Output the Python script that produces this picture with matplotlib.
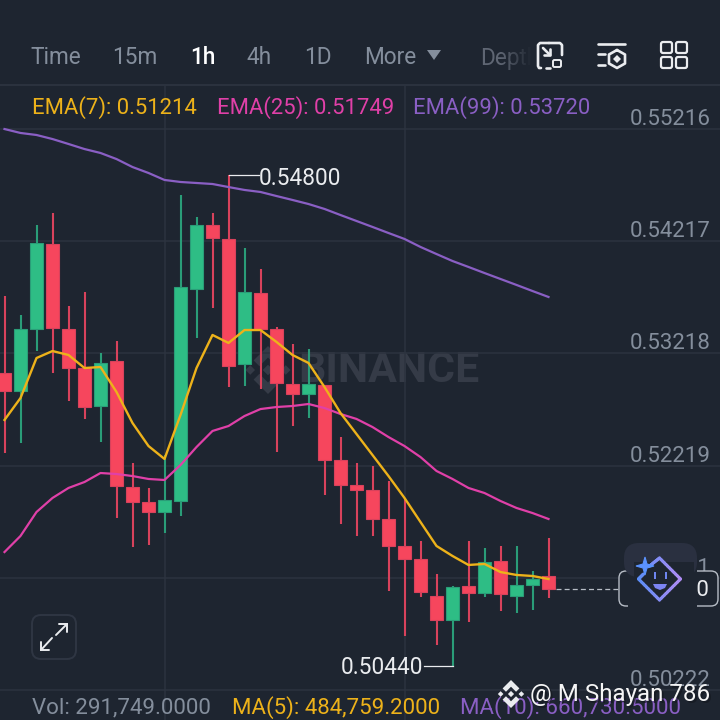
import numpy as np
from matplotlib import pyplot as plt
from matplotlib.colors import to_rgb
from matplotlib.patches import FancyBboxPatch, Polygon, Rectangle

# candle values
opens = [0.53043, 0.52883, 0.53434, 0.54190, 0.53434, 0.53087, 0.52749, 0.53149, 0.52029, 0.51895, 0.51806, 0.51904,
         0.53790, 0.54359, 0.54235, 0.53123, 0.53754, 0.53434, 0.52945, 0.52856, 0.52936, 0.52269, 0.52046, 0.52002,
         0.51744, 0.51504, 0.51388, 0.51059, 0.50845, 0.51148, 0.51086, 0.51370, 0.51059, 0.51157, 0.51237]
highs = [0.53728, 0.53559, 0.54359, 0.54466, 0.53639, 0.53763, 0.53221, 0.53327, 0.52242, 0.52020, 0.52313, 0.54626,
         0.54431, 0.54466, 0.54800, 0.54155, 0.53968, 0.53452, 0.53301, 0.53256, 0.52936, 0.52473, 0.52242, 0.52215,
         0.52082, 0.51931, 0.51548, 0.51255, 0.51148, 0.51548, 0.51486, 0.51504, 0.51504, 0.51281, 0.51575]
lows = [0.52331, 0.52420, 0.53238, 0.53043, 0.52794, 0.52634, 0.52429, 0.51753, 0.51495, 0.51513, 0.51619, 0.51771,
        0.53354, 0.53621, 0.52918, 0.52927, 0.52900, 0.52340, 0.52571, 0.52642, 0.51957, 0.51699, 0.51593, 0.51593,
        0.51103, 0.50703, 0.51050, 0.50623, 0.50440, 0.50828, 0.51050, 0.50925, 0.50908, 0.50934, 0.51041]
closes = [0.52883, 0.53434, 0.54199, 0.53443, 0.53087, 0.52740, 0.53132, 0.52037, 0.51895, 0.51806, 0.51913, 0.53808,
          0.54359, 0.54244, 0.53105, 0.53763, 0.53434, 0.52954, 0.52856, 0.52945, 0.52269, 0.52046, 0.52002, 0.51744,
          0.51504, 0.51388, 0.51095, 0.50845, 0.51139, 0.51086, 0.51361, 0.51077, 0.51157, 0.51210, 0.51121]

ema7 = [0.52625, 0.52820, 0.53176, 0.53238, 0.53203, 0.53087, 0.53096, 0.52874, 0.52598, 0.52393, 0.52278, 0.52669,
        0.53087, 0.53381, 0.53310, 0.53425, 0.53425, 0.53319, 0.53203, 0.53132, 0.52918, 0.52687, 0.52500, 0.52313,
        0.52126, 0.51931, 0.51717, 0.51504, 0.51415, 0.51335, 0.51344, 0.51272, 0.51246, 0.51237, 0.51210]
ema25 = [0.51450, 0.51593, 0.51806, 0.51931, 0.52020, 0.52073, 0.52153, 0.52144, 0.52126, 0.52100, 0.52091, 0.52224,
         0.52384, 0.52527, 0.52571, 0.52660, 0.52722, 0.52740, 0.52749, 0.52767, 0.52731, 0.52678, 0.52634, 0.52562,
         0.52473, 0.52393, 0.52295, 0.52171, 0.52100, 0.52020, 0.51975, 0.51904, 0.51842, 0.51797, 0.51744]
ema99 = [0.55213, 0.55178, 0.55160, 0.55124, 0.55080, 0.55035, 0.55000, 0.54946, 0.54875, 0.54822, 0.54760, 0.54742,
         0.54733, 0.54724, 0.54697, 0.54671, 0.54653, 0.54617, 0.54582, 0.54546, 0.54502, 0.54448, 0.54395, 0.54342,
         0.54288, 0.54235, 0.54164, 0.54101, 0.54039, 0.53986, 0.53932, 0.53879, 0.53826, 0.53772, 0.53719]

price_ticks = [0.55216, 0.54217, 0.53218, 0.52219, 0.51221, 0.50222]
tick_labels = ["0.55216", "0.54217", "0.53218", "0.52219", "0.51221", "0.50222"]
grid_candles = [10, 25]
high_label = "0.54800"
low_label = "0.50440"
last_label = "0.51120"

tabs = ["Time", "15m", "1h", "4h", "1D", "More"]
tab_x = [30, 112, 190, 246, 304, 364]

BG = "#1E2530"
GRID = "#2C333F"
GREEN = "#2EBD85"
RED = "#F6465D"
GREEN_DK = "#2A9D78"
RED_DK = "#D8425C"
YELLOW = "#EDB21A"
PINK = "#E040A8"
PURPLE = "#8A5FC4"
GRAY = "#848E9C"
LIGHT = "#EAECEF"
WMARK = "#353B47"
TEXT_PT = 15.8
VOL_PT = 16

plt.rcParams['font.family'] = ['Roboto', 'DejaVu Sans']

fig = plt.figure(figsize=(7.2, 7.2), dpi=100, facecolor=BG)

# back layer for the watermark, pixel coordinates
back = fig.add_axes([0, 0, 1, 1], zorder=0)
back.set_xlim(0, 720)
back.set_ylim(720, 0)
back.axis("off")

# chart layer: x in candles, y in price
ax = fig.add_axes([0, 0, 1, 1], zorder=1)
ax.patch.set_alpha(0)
ax.set_xlim(-4.5 / 16, (720 - 4.5) / 16)
ax.set_ylim(0.563609 - 720 * 0.00008896, 0.563609)
ax.axis("off")

# top layer for the app controls, pixel coordinates
ui = fig.add_axes([0, 0, 1, 1], zorder=2)
ui.patch.set_alpha(0)
ui.set_xlim(0, 720)
ui.set_ylim(720, 0)
ui.axis("off")


def binance_logo(target, cx, cy, r, color, zorder=1):
    top = [(0, 1), (.6, .4), (.36, .16), (0, .52), (-.36, .16), (-.6, .4)]
    shapes = [top, [(x, -y) for x, y in top]]
    for dx, hd in [(0, .22), (-.74, .2), (.74, .2)]:
        shapes.append([(dx, hd), (dx + hd, 0), (dx, -hd), (dx - hd, 0)])
    for s in shapes:
        target.add_patch(Polygon([(cx + x * r, cy - y * r) for x, y in s], closed=True,
                                 fc=color, ec="none", zorder=zorder))


binance_logo(back, 268, 370, 24, WMARK)
back.text(298, 370, "BINANCE", color=WMARK, fontsize=30.8, fontweight="bold", va="center", ha="left")

# grid
for p in price_ticks:
    ax.axhline(p, color=GRID, lw=1.1, zorder=1)
for c in grid_candles:
    ax.axvline(c, ymax=1 - 86 / 720, color=GRID, lw=1.1, zorder=1)
ui.plot([0, 720], [85, 85], color=GRID, lw=1.4, zorder=1)

# candles
idx = np.arange(len(opens))
opens_a, closes_a = np.array(opens), np.array(closes)
up = closes_a >= opens_a
ax.vlines(idx, lows, highs, colors=[GREEN_DK if u else RED_DK for u in up], lw=1.5, zorder=2)
ax.bar(idx, np.abs(closes_a - opens_a), bottom=np.minimum(opens_a, closes_a), width=0.85,
       color=[GREEN if u else RED for u in up], edgecolor=[GREEN_DK if u else RED_DK for u in up],
       linewidth=0.8, zorder=3)

ax.plot(idx, ema99, color=PURPLE, lw=1.6, zorder=4)
ax.plot(idx, ema25, color=PINK, lw=1.6, zorder=4)
ax.plot(idx, ema7, color=YELLOW, lw=1.7, zorder=4)

# high / low markers
hi = int(np.argmax(highs))
lo = int(np.argmin(lows))
ax.plot([hi, hi + 1.9], [highs[hi], highs[hi]], color=LIGHT, lw=0.9, zorder=6)
ax.plot([lo - 1.8, lo], [lows[lo], lows[lo]], color=LIGHT, lw=0.9, zorder=6)
ax.annotate(high_label, xy=(hi, highs[hi]), xytext=(259, 720 - 178.5), textcoords="figure pixels",
            color=LIGHT, fontsize=16.3, va="center", ha="left", zorder=6)
ax.annotate(low_label, xy=(lo, lows[lo]), xytext=(423, 720 - 667.5), textcoords="figure pixels",
            color=LIGHT, fontsize=16.3, va="center", ha="right", zorder=6)

# last price line
ax.hlines(closes[-1], len(closes) - 1 + 0.45, (619 - 4.5) / 16, color="#B7BDC6", lw=0.9,
          linestyles=(0, (4, 2.5)), zorder=2)

# price axis labels
for p, lab in zip(price_ticks, tick_labels):
    ax.annotate(lab, xy=(1, p), xycoords=("axes fraction", "data"), xytext=(-7, 6.8), textcoords="offset points",
                ha="right", va="center", color=GRAY, fontsize=16, zorder=5)

# header tabs
for name, x in zip(tabs, tab_x):
    active = name == "1h"
    ui.text(x, 58, name, color="white" if active else GRAY, fontsize=16.3, va="center", ha="left",
            fontweight="medium" if active else "normal")
ui.add_patch(Polygon([(427, 50), (441, 50), (434, 60)], closed=True, fc=GRAY, ec="none"))
ui.text(480, 58, "Depth", color="#5F6673", fontsize=16.3, va="center", ha="left", zorder=2)
fade = np.zeros((1, 32, 4))
fade[..., :3] = to_rgb(BG)
fade[..., 3] = np.linspace(0, 1, 32)
ui.imshow(fade, extent=(500, 532, 72, 40), aspect="auto", zorder=3)
ui.add_patch(Rectangle((532, 40), 32, 32, fc=BG, ec="none", zorder=3))
ui.set_xlim(0, 720)
ui.set_ylim(720, 0)

# header icons
ICON = dict(color="#EAECEF", lw=1.9, solid_capstyle="round", solid_joinstyle="round", zorder=5)
ui.plot([541, 539, 538, 538, 540, 549], [68, 68, 66, 45, 43, 43], **ICON)
ui.plot([549, 560, 562, 562], [43, 43, 45, 55], **ICON)
ui.plot([546, 550], [68, 68], **ICON)
ui.add_patch(FancyBboxPatch((553, 60), 8, 7, boxstyle="round,pad=0,rounding_size=1.5", fc="none", ec="#EAECEF",
                            lw=1.4, zorder=5))
ui.plot([543, 550], [48, 55], **ICON)
ui.plot([550, 550, 544], [49, 55, 55], **ICON)

ui.plot([598, 625], [44, 44], **ICON)
ui.plot([598, 605], [54, 54], **ICON)
ui.plot([598, 605], [65, 65], **ICON)
hex_x = [617, 625, 625, 617, 609, 609, 617]
hex_y = [50, 54.5, 63.5, 68, 63.5, 54.5, 50]
ui.plot(hex_x, hex_y, **ICON)
ui.add_patch(Polygon([(617, 55), (621, 59), (617, 63), (613, 59)], closed=True, fc="#EAECEF", ec="none", zorder=5))

for x in (661, 676):
    for y in (42, 57):
        ui.add_patch(FancyBboxPatch((x, y), 11, 11, boxstyle="round,pad=0,rounding_size=2", fc="none",
                                    ec="#EAECEF", lw=1.6, zorder=5))

# EMA legend
ui.text(32, 108, "EMA(7): 0.51214", color=YELLOW, fontsize=TEXT_PT, va="center", ha="left")
ui.text(217, 108, "EMA(25): 0.51749", color=PINK, fontsize=TEXT_PT, va="center", ha="left")
ui.text(413, 108, "EMA(99): 0.53720", color=PURPLE, fontsize=TEXT_PT, va="center", ha="left")

# volume legend
ui.text(32, 708, "Vol: 291,749.0000", color=GRAY, fontsize=VOL_PT, va="center", ha="left")
ui.text(232, 708, "MA(5): 484,759.2000", color=YELLOW, fontsize=VOL_PT, va="center", ha="left")
ui.text(460, 708, "MA(10): 660,730.5000", color=PURPLE, fontsize=VOL_PT, va="center", ha="left")

# expand button
ui.add_patch(FancyBboxPatch((32, 615), 44, 44, boxstyle="round,pad=0,rounding_size=9", fc="none", ec="#2F3643", lw=1.4))
ARROW = dict(color="#EAECEF", lw=1.4, solid_capstyle="round", solid_joinstyle="miter")
ui.plot([41, 52], [650, 638], **ARROW)
ui.plot([41, 41, 49], [642, 650, 650], **ARROW)
ui.plot([56, 67], [635, 624], **ARROW)
ui.plot([59, 67, 67], [624, 624, 632], **ARROW)

# last price tag, mostly hidden by the assistant button
ui.add_patch(FancyBboxPatch((619, 571), 99, 35, boxstyle="round,pad=0,rounding_size=7", fc=BG, ec="#B7BDC6", lw=1.0,
                            zorder=3))
ui.text(710, 591, last_label, color=LIGHT, fontsize=16, va="center", ha="right", zorder=4)
ui.add_patch(Rectangle((628, 565), 69, 45, fc=BG, ec="none", zorder=5))
ui.add_patch(FancyBboxPatch((624, 543), 73, 34, boxstyle="round,pad=0,rounding_size=15", fc="#2A3040", ec="none",
                            zorder=6))
ui.add_patch(Rectangle((634, 562), 60, 48, fc=BG, ec="none", zorder=6))
cx, cy, hd = 659.5, 579, 21
corners = [(cx - 10, cy - 13), (cx, cy - hd), (cx + hd, cy), (cx, cy + hd), (cx - hd, cy), (cx - 16, cy - 5)]
pts = []
for (x0, y0), (x1, y1) in zip(corners[:-1], corners[1:]):
    pts += [(x0 + (x1 - x0) * t, y0 + (y1 - y0) * t) for t in np.linspace(0, 1, 14)]
blue = np.array(to_rgb("#5B8DF6"))
violet = np.array(to_rgb("#B08CF5"))
for (x0, y0), (x1, y1) in zip(pts[:-1], pts[1:]):
    t = (x0 - (cx - hd)) / (2 * hd)
    ui.plot([x0, x1], [y0, y1], color=blue * (1 - t) + violet * t, lw=2.2, solid_capstyle="round", zorder=7)
ui.add_patch(Polygon([(645, 557), (647, 564), (654, 566), (647, 568), (645, 575), (643, 568), (636, 566), (643, 564)],
                     closed=True, fc="#5B93FF", ec="#5B93FF", lw=0.8, zorder=8))
for ex in (655, 666):
    ui.add_patch(Rectangle((ex - 1.2, 572), 2.4, 7, fc="#6F86F0", ec="none", zorder=8))
ui.add_patch(Polygon([(653, 584), (667, 584), (665, 588), (660, 590), (655, 588)], closed=True, fc="#7C84F2",
                     ec="none", zorder=8))

# author watermark
binance_logo(ui, 511, 694, 14, "#EAECEF", zorder=9)
ui.text(531.5, 696.5, "@ M Shayan 786", color="#14181F", fontsize=17.4, va="center", ha="left", alpha=0.7, zorder=9)
ui.text(530, 695, "@ M Shayan 786", color="#F5F5F5", fontsize=17.4, va="center", ha="left", zorder=10)

fig.savefig("out.png", dpi=100, facecolor=BG)
